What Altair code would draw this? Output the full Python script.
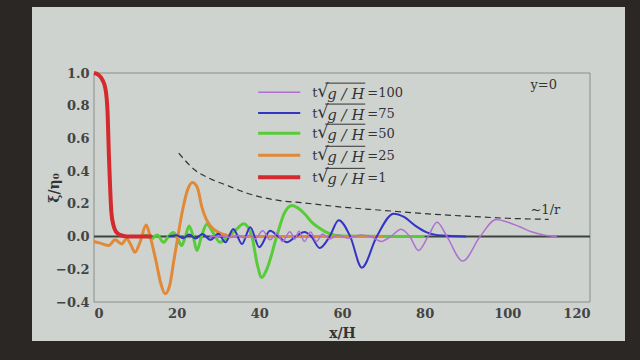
import altair as alt
import pandas as pd

# ---------------- data ----------------
x_ticks = [0, 20, 40, 60, 80, 100, 120]
y_ticks = [-0.4, -0.2, 0.0, 0.2, 0.4, 0.6, 0.8, 1.0]

# t*sqrt(g/H) = 1  (red)
red_x = [0, 1.0, 2.0, 2.8, 3.3, 3.6, 3.9, 4.2, 4.7, 5.3, 6.3, 8, 14]
red_v = [1.0, 0.99, 0.96, 0.9, 0.75, 0.5, 0.3, 0.15, 0.07, 0.03, 0.01, 0.0, 0.0]

# t*sqrt(g/H) = 25  (orange)
orange_x = [0, 1.5, 3.6, 5.1, 6.7, 7.9, 8.9, 9.9, 11.2, 12.6, 13.6, 15.0, 16.2, 17.2,
            18.3, 19.3, 20.3, 21.5, 22.7, 23.8, 25.0, 26.1, 27.1, 28.1, 30.1, 32.4, 35, 70]
orange_v = [-0.03, -0.04, -0.055, -0.02, -0.045, -0.014, -0.05, -0.096, -0.03, 0.07, 0.0,
            -0.15, -0.29, -0.35, -0.3, -0.15, 0.0, 0.17, 0.29, 0.33, 0.3, 0.18, 0.11,
            0.067, 0.026, 0.006, 0.0, 0.0]

# t*sqrt(g/H) = 50  (green)
green_x = [8, 11, 12.5, 14, 15.3, 16.8, 18.0, 19.2, 20.2, 21.2, 22.1, 23.0, 24.0, 24.9,
           26.0, 27.3, 28.9, 30.5, 32.5, 34.5, 36.2, 38.2, 39.5, 40.6, 41.8, 44.2, 46.0,
           47.9, 49.6, 51.1, 52.6, 54.3, 57.1, 60, 80]
green_v = [0, 0.0, 0.008, -0.012, 0.01, -0.035, 0.0, 0.025, -0.01, -0.055, 0.0, 0.065,
           0.0, -0.085, 0.0, 0.075, 0.02, -0.035, 0.0, 0.045, 0.078, 0.0, -0.17, -0.25,
           -0.2, 0.0, 0.14, 0.19, 0.17, 0.135, 0.09, 0.055, 0.016, 0.003, 0]

# t*sqrt(g/H) = 75  (blue)
blue_x = [18, 20, 21.5, 23, 24.6, 26.2, 28.2, 30.1, 31.8, 33.7, 35.8, 37.8, 40.0, 42.6,
          44.6, 46.7, 48.8, 50.9, 52.6, 54.6, 57.0, 59.2, 62.0, 64.8, 68.4, 72.5, 75.0,
          77.7, 80.5, 84.2, 90]
blue_v = [0, 0.008, -0.01, 0.012, -0.012, 0.015, -0.02, 0.018, -0.035, 0.047, -0.045,
          0.057, -0.065, 0.035, 0.0, -0.035, 0.0, 0.028, 0.0, -0.07, 0.0, 0.1, 0.0,
          -0.19, 0.0, 0.14, 0.12, 0.067, 0.026, 0.006, 0]

# t*sqrt(g/H) = 100  (purple)
purple_x = [28, 31, 33, 35, 36.3, 37.7, 39.0, 40.8, 42.6, 44.3, 45.6, 47.4, 48.6, 49.6,
            50.9, 52.4, 53.8, 55.3, 57.0, 59.0, 61.5, 64.5, 67.0, 69.5, 71.8, 74.3, 76.4,
            78.5, 80.8, 83.0, 85.4, 89.2, 93.4, 97.3, 100.5, 103, 106, 108.8, 112]
purple_v = [0, 0.004, -0.005, 0.006, -0.008, 0.01, -0.015, 0.035, -0.02, 0.02, -0.03,
            0.03, -0.015, 0.033, -0.03, 0.028, -0.03, 0.015, -0.015, 0.01, -0.01, 0.01,
            0.0, -0.03, 0.0, 0.045, 0.0, -0.085, 0.0, 0.088, 0.0, -0.15, 0.0, 0.105,
            0.085, 0.06, 0.028, 0.01, 0.0]

# ~1/r envelope (dashed)
env_x = [20.5, 24.5, 28, 32.5, 36.5, 40.6, 45, 51, 60, 70, 80, 90, 100, 110]
env_v = [0.51, 0.405, 0.355, 0.31, 0.27, 0.24, 0.22, 0.205, 0.18, 0.16, 0.14, 0.125,
         0.112, 0.105]

# legend
legend_vals = ["=100", "=75", "=50", "=25", "=1"]
legend_colors = ["#b070d0", "#3434c4", "#58cc38", "#e08a38", "#d42a2e"]
legend_widths = [1.5, 2, 3, 3, 4]
legend_y = [0.883, 0.755, 0.632, 0.497, 0.362]
legend_line_x0 = 39.7
legend_line_x1 = 49.9
legend_text_x = 52.8

# annotations
ann_text = ["y=0", "~1/r"]
ann_x = [105.6, 105.6]
ann_y = [0.925, 0.16]

# ---------------- chart ----------------
W, H = 496, 229
SERIF = "DejaVu Serif"
xs = alt.Scale(domain=[0, 120], nice=False, zero=False)
ys = alt.Scale(domain=[-0.4, 1.0], nice=False, zero=False)

XAX = alt.Axis(values=x_ticks, format="d", title="x/H", grid=False, ticks=False,
               domain=False, labelPadding=5, titleY=31, titleBaseline="middle", zindex=2)
YAX = alt.Axis(values=y_ticks, format=".1f", title="ξ/η₀", grid=False, ticks=False,
               domain=False, labelPadding=5, titleX=-40, titleY=H / 2,
               titleAngle=270, titleAlign="center", titleBaseline="middle", zindex=2)


def X(field):
    return alt.X(field, scale=xs, axis=XAX)


def Y(field):
    return alt.Y(field, scale=ys, axis=YAX)


slide = alt.Chart(pd.DataFrame({"a": [0]})).mark_rect(color="#cfd3d0").encode(
    x=alt.value(-62), x2=alt.value(531), y=alt.value(-66), y2=alt.value(268)
)
frame = alt.Chart(pd.DataFrame({"a": [0]})).mark_rect(
    fillOpacity=0, stroke="#8a8d8a", strokeWidth=1
).encode(x=alt.value(0), x2=alt.value(W), y=alt.value(0), y2=alt.value(H))

zero = alt.Chart(pd.DataFrame({"v": [0.0]})).mark_rule(
    color="#3a463d", strokeWidth=2
).encode(y=Y("v:Q"), x=alt.value(0), x2=alt.value(W))


def line_layer(xv, vv, color, width, **kw):
    df = pd.DataFrame({"x": xv, "v": vv})
    return alt.Chart(df).mark_line(
        color=color, strokeWidth=width, interpolate="monotone", **kw
    ).encode(x=X("x:Q"), y=Y("v:Q"))


envelope = line_layer(env_x, env_v, "#333333", 1.2, strokeDash=[6, 4])
green = line_layer(green_x, green_v, legend_colors[2], 3)
orange = line_layer(orange_x, orange_v, legend_colors[3], 3)
blue = line_layer(blue_x, blue_v, legend_colors[1], 2)
purple = line_layer(purple_x, purple_v, legend_colors[0], 1.5)
red = line_layer(red_x, red_v, legend_colors[4], 4)

leg = pd.DataFrame({
    "y": legend_y, "lab": legend_vals, "c": legend_colors, "w": legend_widths,
    "x0": [legend_line_x0] * 5, "x1": [legend_line_x1] * 5, "tx": [legend_text_x] * 5,
})
leg_lines = alt.Chart(leg).mark_rule().encode(
    x=X("x0:Q"), x2="x1:Q", y=Y("y:Q"),
    color=alt.Color("c:N", scale=None), strokeWidth=alt.StrokeWidth("w:Q", scale=None),
)
base_txt = alt.Chart(leg).encode(x=X("tx:Q"), y=Y("y:Q"))
t_txt = base_txt.mark_text(align="left", baseline="middle", font=SERIF, fontSize=13,
                           color="#333333", dy=1).encode(text=alt.value("t"))
sq_txt = base_txt.mark_text(align="left", baseline="middle", font=SERIF, fontSize=18,
                            color="#333333", dx=5, dy=0).encode(text=alt.value("√"))
gh_txt = base_txt.mark_text(align="left", baseline="middle", font=SERIF, fontSize=15,
                            fontStyle="italic", color="#333333", dx=15, dy=2).encode(
    text=alt.value("g / H"))
eq_txt = base_txt.mark_text(align="left", baseline="middle", font=SERIF, fontSize=13,
                            color="#333333", dx=55, dy=1).encode(text="lab:N")
over = base_txt.mark_rule(color="#333333", strokeWidth=1, xOffset=13, x2Offset=53,
                          yOffset=-9).encode(x2="tx:Q")

ann = alt.Chart(pd.DataFrame({"t": ann_text, "x": ann_x, "y": ann_y})).mark_text(
    align="left", baseline="middle", font=SERIF, fontSize=13, color="#333333"
).encode(x=X("x:Q"), y=Y("y:Q"), text="t:N")

chart = alt.layer(
    slide, frame, zero, envelope, green, orange, blue, purple, red,
    leg_lines, t_txt, sq_txt, gh_txt, eq_txt, over, ann,
).properties(
    width=W, height=H, background="#2b2725",
    padding={"left": 94, "top": 73, "right": 50, "bottom": 58},
    autosize=alt.AutoSizeParams(type="none"),
).configure_view(
    stroke=None
).configure_axis(
    labelFont=SERIF, labelFontSize=13, labelColor="#444444", labelFontWeight="bold",
    titleFont=SERIF, titleFontSize=14, titleColor="#333333", titleFontWeight="bold",
)

chart.save("out.html", embed_options={"renderer": "svg", "actions": False})
